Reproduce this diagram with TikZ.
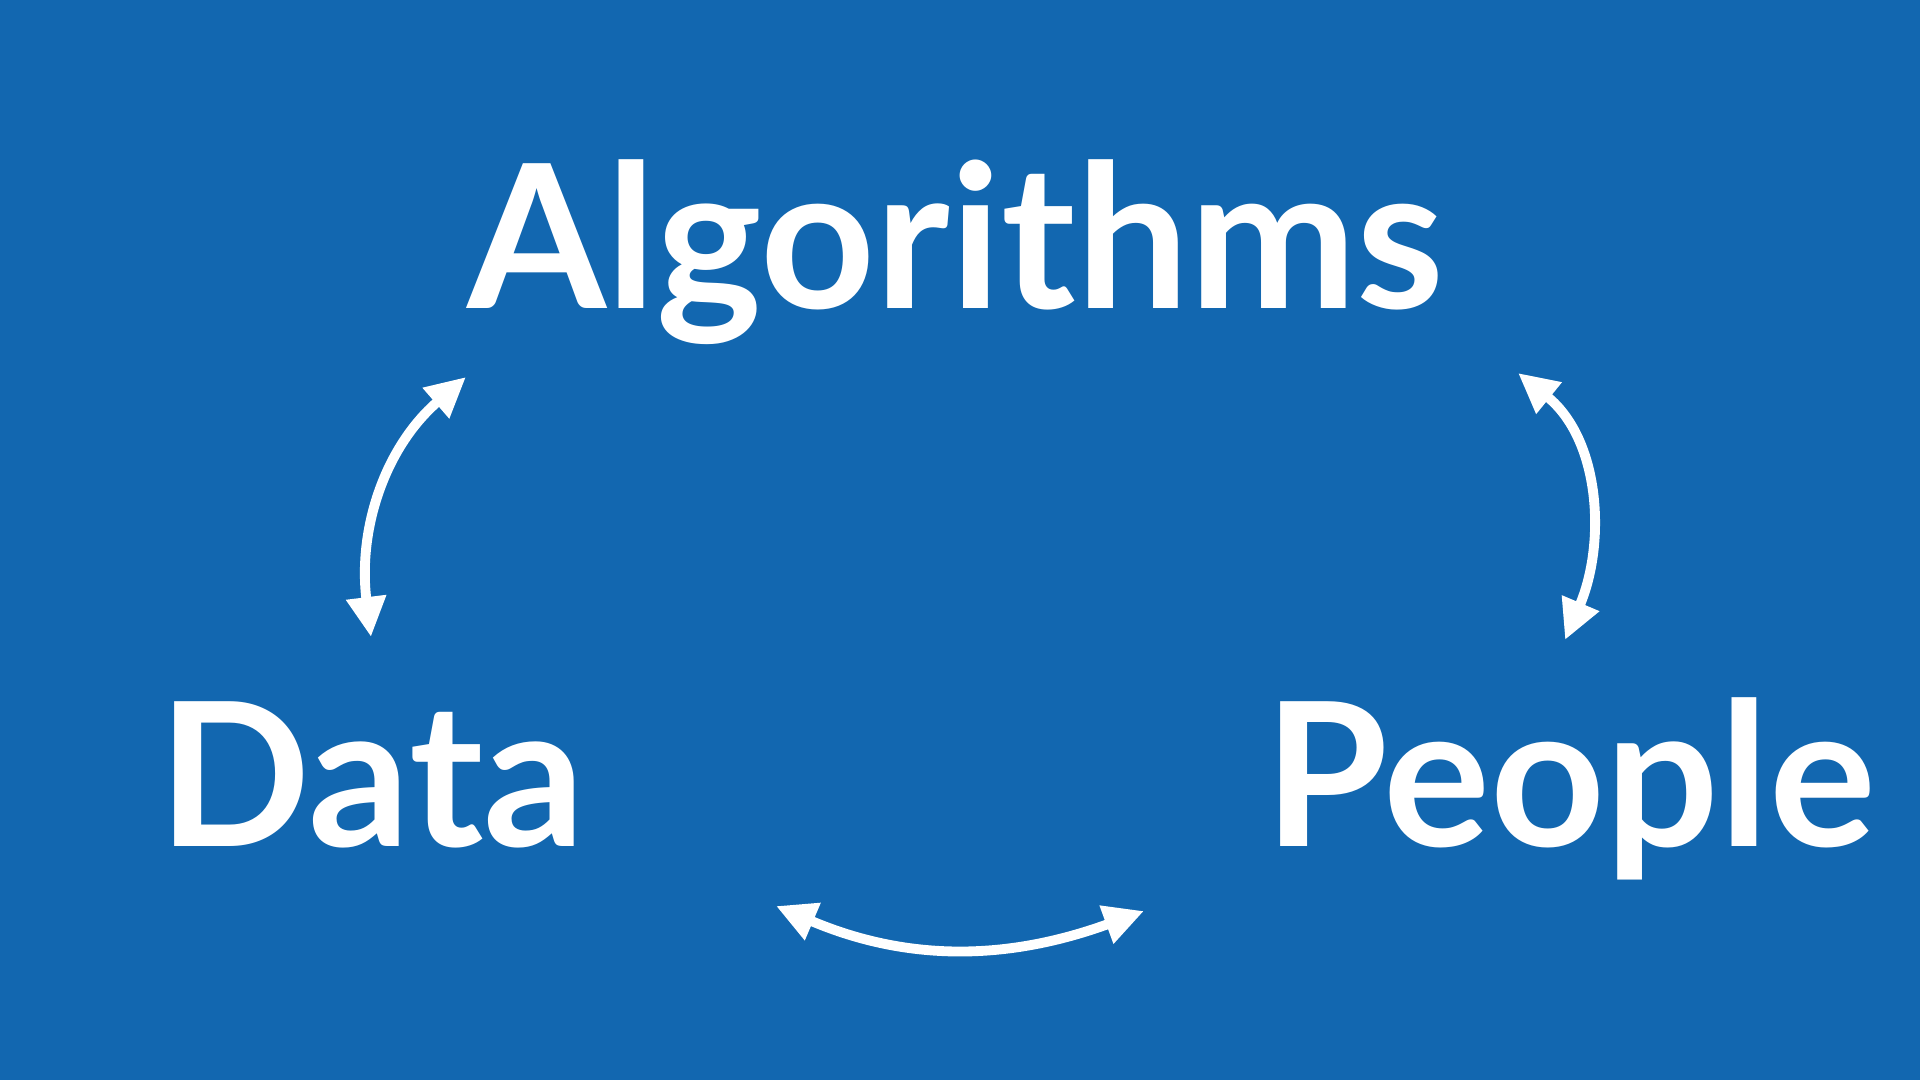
\documentclass[tikz,border=0pt]{standalone}
\usepackage{fontspec}
\setmainfont{Lato}
\usetikzlibrary{arrows.meta}

\begin{document}
\begin{tikzpicture}
        \definecolor{bgblue}{RGB}{18,103,176}
        \tikzset{
            word/.style={text=white, font=\fontsize{57}{60}\selectfont\bfseries, anchor=base, inner sep=0pt},
            link/.style={white, line width=2.8pt, {Triangle[length=0.4cm, width=0.38cm]}-{Triangle[length=0.4cm, width=0.38cm]},
                postaction={draw, white, line width=1.6pt, arrows=-, shorten <=0.3cm, shorten >=0.3cm}}
        }

        % Background
        \fill[bgblue] (0,0) rectangle (19.2,10.8);

        % Words
        \node[word] (algo) at (9.56,7.71) {Algorithms};
        \node[word] (data) at (3.72,2.33) {Data};
        \node[word] (people) at (15.70,2.33) {People};

        % Arrow ends
        \coordinate (dataTop) at (3.71,4.43);
        \coordinate (algoLeft) at (4.66,7.03);
        \coordinate (algoRight) at (15.18,7.07);
        \coordinate (peopleTop) at (15.65,4.40);
        \coordinate (dataRight) at (7.76,1.74);
        \coordinate (peopleLeft) at (11.44,1.69);

        % Cycle arrows
        \draw[link] (dataTop) to[out=97, in=221] (algoLeft);
        \draw[link] (algoRight) to[out=-39, in=67] (peopleTop);
        \draw[link] (dataRight) to[out=-23, in=200] (peopleLeft);
    \end{tikzpicture}
\end{document}
